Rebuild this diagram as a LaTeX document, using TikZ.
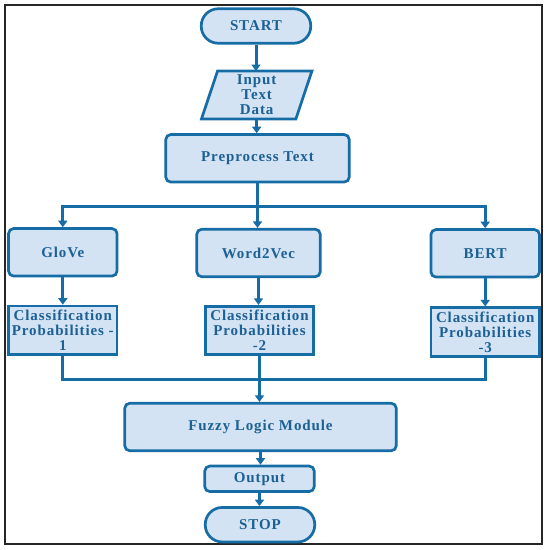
\documentclass[tikz,border=0pt]{standalone}
\usepackage{fontspec}
\newfontfamily\bfont{Liberation Serif}[LetterSpace=6]
\usetikzlibrary{arrows.meta,backgrounds}
\definecolor{edgeblue}{RGB}{22,108,165}
\definecolor{fillblue}{RGB}{211,227,243}
\definecolor{txtblue}{RGB}{28,96,148}
\tikzset{
  boxfont/.style={font=\bfont\bfseries\fontsize{15}{15}\selectfont, text=txtblue, align=center},
  shapeline/.style={draw=edgeblue, fill=fillblue, line width=2.7pt},
  rbox/.style={shapeline, boxfont, rectangle, rounded corners=5pt, inner sep=0pt, minimum height=47.5pt},
  sbox/.style={shapeline, boxfont, rectangle, inner sep=0pt, minimum height=48.5pt, minimum width=108.5pt},
  term/.style={shapeline, boxfont, rectangle, rounded corners=17pt, inner sep=0pt, minimum height=34.5pt, minimum width=109.5pt},
  plain/.style={boxfont, inner sep=0pt, minimum width=94pt, minimum height=47.5pt},
  conn/.style={draw=edgeblue, line width=3pt},
  arr/.style={conn, -{Triangle[width=9pt,length=6.5pt]}},
  frame/.style={draw=black!85, line width=1.5pt}
}
\begin{document}
\begin{tikzpicture}[x=1pt,y=-1pt]
\useasboundingbox (0,0) rectangle (548,550);
\draw[frame] (5,5) rectangle (542,544);

\node[term] (start) at (256,26) {START};
\node[plain] (inp) at (256.7,95) {Input\\Text\\Data};
\begin{scope}[on background layer]
  \draw[shapeline] ([xshift=8pt]inp.north west) -- ([xshift=8pt]inp.north east) -- ([xshift=-8pt]inp.south east) -- ([xshift=-8pt]inp.south west) -- cycle;
\end{scope}
\node[rbox, minimum width=183.5pt] (pre) at (257.5,158.3) {Preprocess Text};

\node[rbox, minimum width=108.5pt] (glove) at (62.8,252.3) {GloVe};
\node[rbox, minimum width=123.5pt] (w2v) at (258.5,253) {Word2Vec};
\node[rbox, minimum width=108.5pt] (bert) at (485.2,253.3) {BERT};

\node[sbox] (c1) at (62.8,330.3) {Classification\\Probabilities -\\1};
\node[sbox] (c2) at (259.5,330.5) {Classification\\Probabilities\\-2};
\node[sbox] (c3) at (485.2,332) {Classification\\Probabilities\\-3};

\node[rbox, minimum width=271.5pt] (fuzzy) at (260.5,427) {Fuzzy Logic Module};
\node[rbox, minimum width=109.5pt, minimum height=25.5pt] (out) at (259.5,478.8) {Output};
\node[term] (stop) at (260,524.7) {STOP};

\coordinate (br) at (258,206.7);
\coordinate (jn) at (259.5,379);

\draw[arr] (start.south) -- (start.south |- inp.north);
\draw[arr] (inp.south) -- (inp.south |- pre.north);
\draw[arr] (pre.south) -- (pre.south |- w2v.north);
\draw[arr] (br) -| (glove.north);
\draw[arr] (br) -| (bert.north);
\draw[arr] (glove.south) -- (c1.north);
\draw[arr] (w2v.south) -- (w2v.south |- c2.north);
\draw[arr] (bert.south) -- (c3.north);
\draw[conn] (c1.south) |- (jn);
\draw[conn] (c3.south) |- (jn);
\draw[arr] (c2.south) -- (c2.south |- fuzzy.north);
\draw[arr] (fuzzy.south) -- (fuzzy.south |- out.north);
\draw[arr] (out.south) -- (out.south |- stop.north);
\end{tikzpicture}
\end{document}
